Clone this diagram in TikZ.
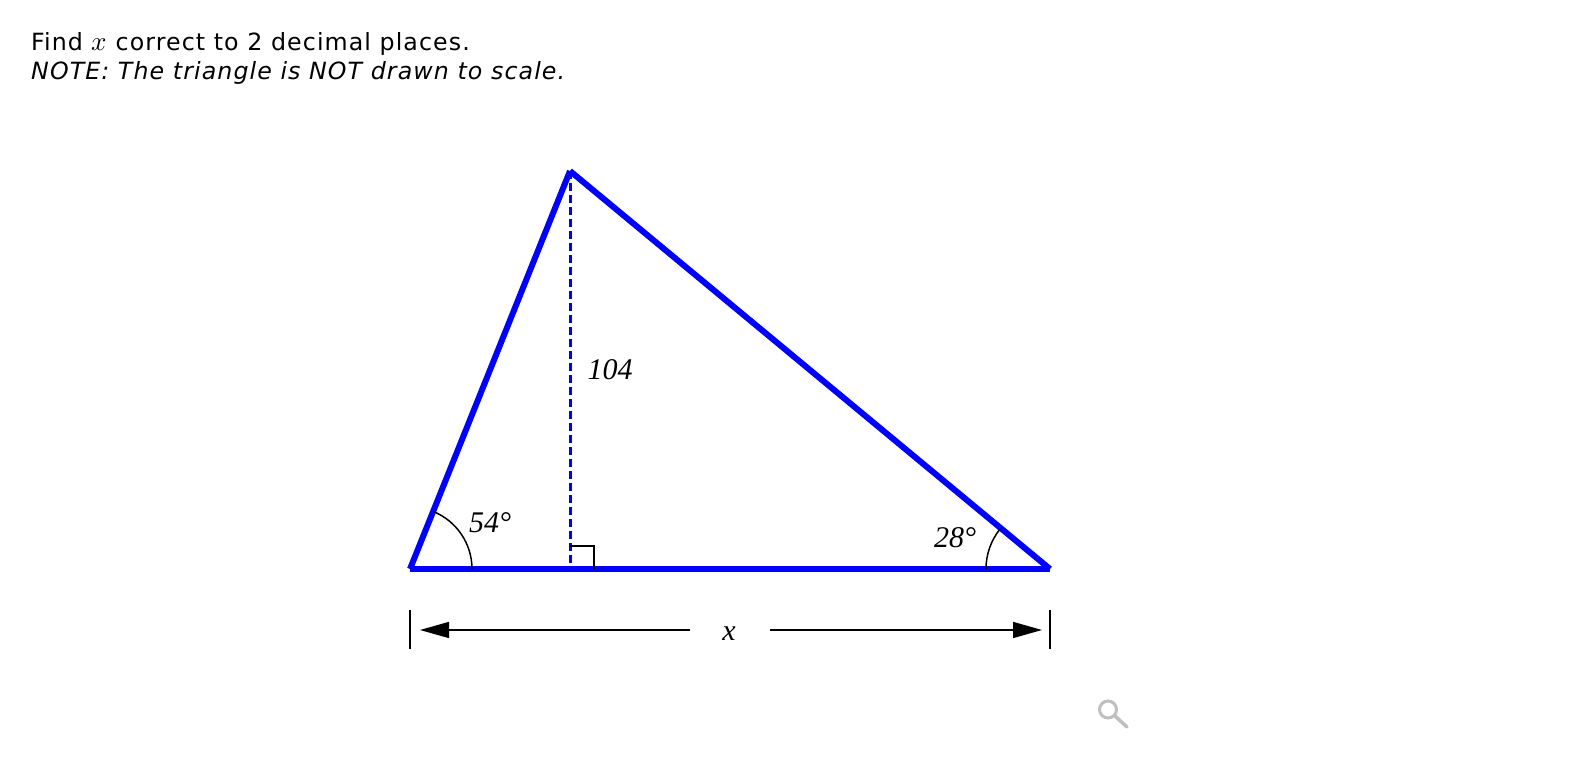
\documentclass[tikz,border=0pt]{standalone}
\usepackage{fontspec}
\usepackage{unicode-math}
\setmainfont{Liberation Serif}
\newfontfamily\promptfont[LetterSpace=4.6]{DejaVu Sans}
\usetikzlibrary{arrows.meta,positioning}

\begin{document}
\begin{tikzpicture}[x=1pt,y=1pt,
    side/.style={draw=blue, line width=6pt},
    altitude/.style={draw=blue, line width=3pt, dash pattern=on 8pt off 4pt},
    guide/.style={draw=black, line width=1.5pt},
    dimtip/.style={-{Triangle[length=29pt,width=16pt]}},
    lbl/.style={font=\fontsize{30}{30}\selectfont\itshape, inner sep=0pt},
    prompt/.style={font=\promptfont\fontsize{23.7}{27}\selectfont, inner sep=0pt, anchor=base west}]

  \useasboundingbox (0,0) rectangle (1580,760);

% Nodes
  \node[prompt]                                           (find) at (31,709) {Find {\fontsize{27}{27}\selectfont$x$} correct to 2 decimal places.};
  \node[prompt, below=29pt of find.base west, anchor=base west] (note) {\itshape NOTE: The triangle is NOT drawn to scale.};

  \coordinate (A) at (410,191);
  \coordinate (B) at (1050,191);
  \coordinate (C) at (570,589);
  \coordinate (D) at (570,191);

  \node[lbl]                    (hlbl) at (610,390) {104};
  \node[lbl]                    (albl) at (490,237) {54°};
  \node[lbl]                    (blbl) at (955,222) {28°};
  \node[lbl, anchor=base]       (xlbl) at (729,119) {x};

  \coordinate (Ltop) at (410,150);
  \coordinate (Lbot) at (410,111);
  \coordinate (Rtop) at (1050,150);
  \coordinate (Rbot) at (1050,111);
  \coordinate (Ltip) at (420,130);
  \coordinate (Lend) at (690,130);
  \coordinate (Rend) at (770,130);
  \coordinate (Rtip) at (1042,130);

% Edges
  \draw[altitude] (C) -- (D);
  \draw[side]     (A) -- (B);
  \draw[side]     (A) -- (C);
  \draw[side]     (C) -- (B);

  \draw[guide] ([xshift=62pt]A) arc (0:68:62);
  \draw[guide] ([xshift=-64pt]B) arc (180:141:64);
  \draw[guide] ([yshift=23pt]D) -| ([xshift=24pt]D);

  \draw[guide] (Ltop) -- (Lbot);
  \draw[guide] (Rtop) -- (Rbot);
  \draw[guide, dimtip] (Lend) -- (Ltip);
  \draw[guide, dimtip] (Rend) -- (Rtip);

  % magnifier
  \draw[gray!50, line width=3pt] (1108,50.5) circle (8.5);
  \draw[gray!50, line width=3.5pt, line cap=round] (1115,44) -- (1127,33);
\end{tikzpicture}
\end{document}
